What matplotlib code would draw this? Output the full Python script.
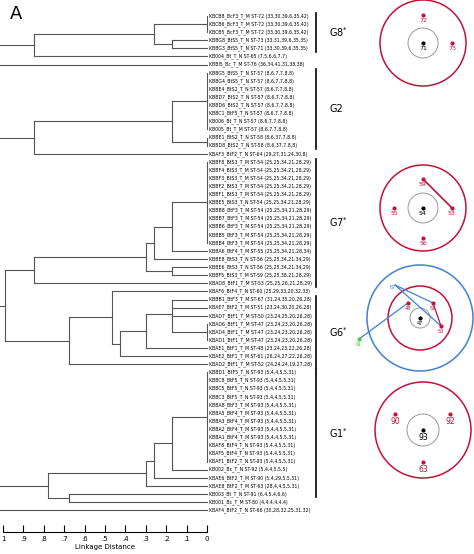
import numpy as np
import matplotlib.pyplot as plt
from matplotlib.patches import Circle

# leaf labels, top to bottom
leaves = [
    "KBCB8_BcF3_T_M ST-72 (33,30,39,6,35,42)",
    "KBCB6_BcF3_T_M ST-72 (33,30,39,6,35,42)",
    "KBCB5_BcF3_T_M ST-72 (33,30,39,6,35,42)",
    "KBBG8_BtS5_T_N ST-73 (33,31,39,6,35,35)",
    "KBBG3_BtS5_T_N ST-71 (33,30,39,6,35,35)",
    "KB004_Bt_T_N ST-65 (7,5,6,6,7,7)",
    "KBBI5_Bc_T_M ST-76 (36,34,41,31,38,38)",
    "KBBG5_BtS5_T_N ST-57 (8,6,7,7,8,8)",
    "KBBG4_BtS5_T_N ST-57 (8,6,7,7,8,8)",
    "KBBE4_BtS2_T_N ST-57 (8,6,7,7,8,8)",
    "KBBD7_BtS2_T_N ST-57 (8,6,7,7,8,8)",
    "KBBD6_BtS2_T_N ST-57 (8,6,7,7,8,8)",
    "KBBC1_BtF5_T_N ST-57 (8,6,7,7,8,8)",
    "KB006_Bt_T_N ST-57 (8,6,7,7,8,8)",
    "KB005_Bt_T_M ST-57 (8,6,7,7,8,8)",
    "KBBE1_BtS2_T_N ST-58 (8,6,37,7,8,8)",
    "KBBD8_BtS2_T_N ST-58 (8,6,37,7,8,8)",
    "KBAF3_BtF2_T_N ST-64 (29,27,31,24,30,8)",
    "KBBF8_BtS3_T_M ST-54 (25,25,34,21,28,29)",
    "KBBF4_BtS3_T_M ST-54 (25,25,34,21,28,29)",
    "KBBF3_BtS3_T_M ST-54 (25,25,34,21,28,29)",
    "KBBF2_BtS3_T_M ST-54 (25,25,34,21,28,29)",
    "KBBF1_BtS3_T_M ST-54 (25,25,34,21,28,29)",
    "KBBE5_BtS3_T_N ST-54 (25,25,34,21,28,29)",
    "KBBB8_BtF3_T_M ST-54 (25,25,34,21,28,29)",
    "KBBB7_BtF3_T_M ST-54 (25,25,34,21,28,29)",
    "KBBB6_BtF3_T_M ST-54 (25,25,34,21,28,29)",
    "KBBB5_BtF3_T_M ST-54 (25,25,34,21,28,29)",
    "KBBB4_BtF3_T_M ST-54 (25,25,34,21,28,29)",
    "KBBA6_BtF4_T_M ST-55 (25,25,34,21,28,34)",
    "KBBE8_BtS3_T_N ST-56 (25,25,34,21,34,29)",
    "KBBE6_BtS3_T_N ST-56 (25,25,34,21,34,29)",
    "KBBF5_BtS3_T_M ST-59 (25,25,38,21,28,29)",
    "KBAD8_BtF1_T_M ST-53 (25,25,26,21,28,29)",
    "KBAF6_BtF4_T_N ST-60 (25,29,33,20,32,33)",
    "KBBB1_BtF3_T_M ST-67 (31,24,35,20,26,28)",
    "KBAE7_BtF2_T_M ST-51 (23,24,30,20,26,28)",
    "KBAD7_BtF1_T_M ST-50 (23,24,25,20,26,28)",
    "KBAD6_BtF1_T_M ST-47 (23,24,23,20,26,28)",
    "KBAD4_BtF1_T_M ST-47 (23,24,23,20,26,28)",
    "KBAD1_BtF1_T_M ST-47 (23,24,23,20,26,28)",
    "KBAE1_BtF1_T_M ST-48 (23,24,23,22,26,28)",
    "KBAE2_BtF1_T_M ST-61 (26,24,27,22,26,28)",
    "KBAD2_BtF1_T_M ST-52 (24,24,24,19,27,28)",
    "KBBD1_BtF5_T_N ST-93 (5,4,4,5,5,31)",
    "KBBC8_BtF5_T_N ST-93 (5,4,4,5,5,31)",
    "KBBC5_BtF5_T_N ST-93 (5,4,4,5,5,31)",
    "KBBC3_BtF5_T_N ST-93 (5,4,4,5,5,31)",
    "KBBA8_BtF3_T_M ST-93 (5,4,4,5,5,31)",
    "KBBA5_BtF4_T_M ST-93 (5,4,4,5,5,31)",
    "KBBA3_BtF4_T_M ST-93 (5,4,4,5,5,31)",
    "KBBA2_BtF4_T_M ST-93 (5,4,4,5,5,31)",
    "KBBA1_BtF4_T_M ST-93 (5,4,4,5,5,31)",
    "KBAF8_BtF4_T_N ST-93 (5,4,4,5,5,31)",
    "KBAF5_BtF4_T_N ST-93 (5,4,4,5,5,31)",
    "KBAF1_BtF2_T_N ST-93 (5,4,4,5,5,31)",
    "KB002_Bc_T_N ST-92 (5,4,4,5,5,5)",
    "KBAE6_BtF2_T_M ST-90 (5,4,29,5,5,31)",
    "KBAE8_BtF2_T_M ST-63 (28,4,4,5,5,31)",
    "KB003_Bt_T_N ST-91 (6,4,5,4,6,6)",
    "KB001_Bc_T_M ST-80 (4,4,4,4,4,4)",
    "KBAF4_BtF2_T_N ST-66 (30,28,32,25,31,32)",
]

# tree: (height, [children]); leaves are indices
g8 = (1.05, [(0.846, [(0.258, [(0.0, [0, 1, 2]), (0.173, [3, 4])]), 5]), 6])
g2 = (0.846, [(0.173, [(0.0, list(range(7, 15))), (0.0, [15, 16])]), 17])
g7 = (0.846, [(0.30, [(0.258, [(0.173, [(0.0, list(range(18, 29))), 29]), 30]),
                      (0.173, [31, 32])]), 33])
g6 = (0.678, [(0.467, [34, (0.426, [(0.30, [(0.173, [35, 36, 37, (0.0, [38, 39, 40])]), 41]), 42])]), 43])
g1 = (0.78, [(0.30, [(0.258, [(0.173, [(0.0, list(range(44, 56))), 56]), 57]), 58]),
             (0.678, [59, 60])])
tree = (1.3, [(1.2, [(1.1, [g8, g2]), (0.99, [g7, g6])]), (1.25, [g1, 61])])

ticks = [1, .9, .8, .7, .6, .5, .4, .3, .2, .1, 0]
tick_labels = ["1", ".9", ".8", ".7", ".6", ".5", ".4", ".3", ".2", ".1", "0"]

groups = [("G8", 0, 4), ("G2", 7, 16), ("G7", 18, 33), ("G6", 35, 43), ("G1", 44, 59)]

W, H = 474, 554
fig = plt.figure(figsize=(W / 100, H / 100), dpi=100)
ax = fig.add_axes([3 / W, (H - 532) / H, 204 / W, 522 / H])
ax.set_xlim(1, 0)
ax.set_ylim(63.7, -0.74)
lc = "#555555"

def draw(node):
    if isinstance(node, int):
        return node, 0.0
    h, kids = node
    res = [draw(k) for k in kids]
    ys = [r[0] for r in res]
    for y, ch in res:
        ax.plot([ch, h], [y, y], color=lc, lw=0.8, clip_on=False)
    ax.plot([h, h], [min(ys), max(ys)], color=lc, lw=0.8, clip_on=False)
    return np.mean(ys), h

draw(tree)

for i, lab in enumerate(leaves):
    ax.text(-0.008, i, lab, fontsize=3.35, va="center", ha="left", clip_on=False)

for name, a, b in groups:
    ax.plot([-0.535, -0.535], [a - 0.4, b + 0.4], color="black", lw=1.2, clip_on=False)
    ax.text(-0.6, (a + b) / 2, name + ("" if name == "G2" else "$^{*}$"), fontsize=7,
            va="center", ha="left", clip_on=False)

for s in ["top", "left", "right"]:
    ax.spines[s].set_visible(False)
ax.spines["bottom"].set_linewidth(0.8)
ax.set_yticks([])
ax.set_xticks(ticks)
ax.set_xticklabels(tick_labels, fontsize=5)
ax.tick_params(axis="x", direction="in", length=5, width=0.8, pad=3)
ax.set_xlabel("Linkage Distance", fontsize=5, labelpad=1)

fig.text(10 / W, 1 - 14 / H, "A", fontsize=13, va="center")

# eBURST diagrams on the right, in pixel coordinates
ov = fig.add_axes([0, 0, 1, 1])
ov.set_xlim(0, W)
ov.set_ylim(H, 0)
ov.axis("off")
red = "#c4103a"
blue = "#3f82d4"

def burst(cx, cy, r_out, r_in, outer_color=red):
    ov.add_patch(Circle((cx, cy), r_out, fill=False, ec=outer_color, lw=1.1))
    ov.add_patch(Circle((cx, cy), r_in, fill=False, ec="#999999", lw=0.7))

def node(x, y, lab, color, size=4.5):
    ov.plot(x, y, "o", ms=2, color=color)
    ov.text(x, y + 3, lab, color=color, fontsize=size, ha="center", va="top")

burst(423, 43, 43, 15)
node(423, 43, "71", "black")
node(423, 15, "72", red)
node(452, 43, "73", red)

burst(423, 208, 43, 15)
ov.plot([423, 452], [179, 208], color=red, lw=1.2)
node(423, 179, "59", red)
node(452, 208, "53", red)
node(394, 208, "55", red)
node(423, 238, "56", red)
node(423, 208, "54", "black")

ov.add_patch(Circle((420, 318), 53, fill=False, ec=blue, lw=1.1))
burst(420, 318, 32, 10)
ov.plot([395, 441], [285, 326], color=blue, lw=0.9)
ov.plot([395, 433], [285, 303], color=blue, lw=0.9)
ov.plot([359, 408], [339, 303], color=blue, lw=0.9)
ov.plot([433, 441], [303, 326], color=red, lw=0.9)
node(420, 318, "47", "black", 3.5)
node(408, 303, "48", red, 3.5)
node(433, 303, "51", red, 3.5)
node(441, 326, "50", red, 3.5)
ov.plot(359, 339, "o", ms=2, color="#44cc44")
ov.text(359, 342, "61", color="#44cc44", fontsize=3.5, ha="center", va="top")
ov.text(393, 290, "67", color=blue, fontsize=3.5, ha="center", va="bottom")

burst(423, 430, 48, 16)
node(423, 430, "93", "black", 5.5)
node(395, 414, "90", red, 5.5)
node(450, 414, "92", red, 5.5)
node(423, 462, "63", red, 5.5)

fig.savefig("out.png", dpi=100)
